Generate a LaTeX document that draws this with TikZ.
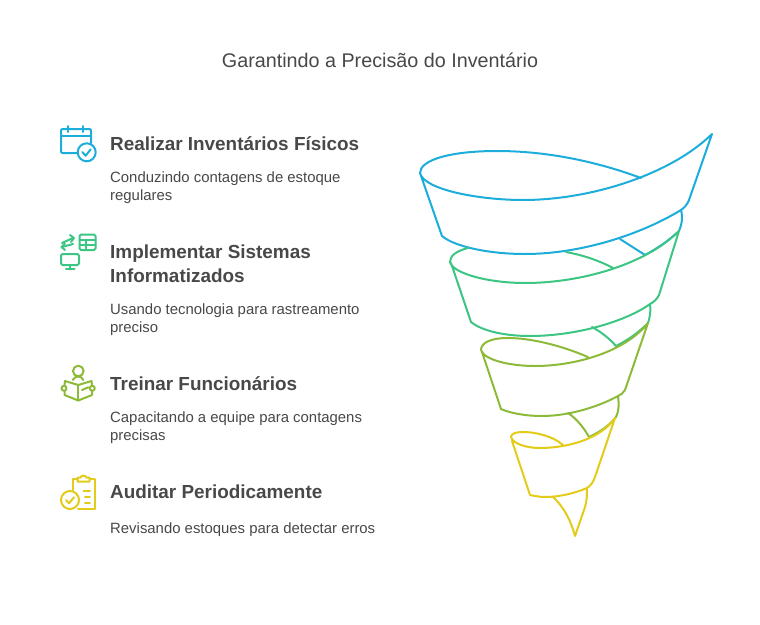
\documentclass[tikz,border=0pt]{standalone}
\usepackage{fontspec}
\setmainfont{Liberation Sans}
\usepackage{tikz}
\definecolor{cblue}{HTML}{1DADDB}
\definecolor{cgreen}{HTML}{3CC583}
\definecolor{colive}{HTML}{8DBB39}
\definecolor{cyellow}{HTML}{E3CB1A}
\definecolor{ctext}{HTML}{484848}
\tikzset{
  title/.style={text=ctext, inner sep=0pt, font=\fontsize{19.75}{24}\selectfont},
  head/.style={anchor=north west, align=left, text=ctext, inner sep=0pt, font=\fontsize{18.9}{24}\selectfont\bfseries},
  body/.style={anchor=north west, align=left, text=ctext, inner sep=0pt, font=\fontsize{14.9}{18}\selectfont},
  funnel/.style={line width=2pt, line join=round, line cap=round},
  icon/.style={line width=2pt, line join=round, line cap=round}
}

\begin{document}
\begin{tikzpicture}[x=1pt, y=-1pt]
        \useasboundingbox (0,0) rectangle (760,624);

        \node (title) [title] at (380,60) {Garantindo a Precisão do Inventário};

        \node (h1) [head] at (110,136.5) {Realizar Inventários Físicos};
        \node (t1) [body] at (110,171) {Conduzindo contagens de estoque\\regulares};
        \node (h2) [head] at (110,244.5) {Implementar Sistemas\\Informatizados};
        \node (t2) [body] at (110,303) {Usando tecnologia para rastreamento\\preciso};
        \node (h3) [head] at (110,376.5) {Treinar Funcionários};
        \node (t3) [body] at (110,411) {Capacitando a equipe para contagens\\precisas};
        \node (h4) [head] at (110,484.5) {Auditar Periodicamente};
        \node (t4) [body] at (110,522) {Revisando estoques para detectar erros};

        % funnel, blue
        \draw [funnel, cblue] (641,178) .. controls (590,159) and (540,151) .. (497,151)
                .. controls (450,151) and (420,160) .. (420,173)
                .. controls (424,190) and (480,200) .. (523,200)
                .. controls (590,200) and (670,175) .. (712,134)
                -- (689,200) .. controls (687,205) and (684,208) .. (681,210)
                .. controls (640,235) and (580,254) .. (525,254)
                .. controls (490,254) and (455,247) .. (442,236) -- (420,173);
        \draw [funnel, cblue] (681,210) .. controls (683,218) and (682,224) .. (679,231)
                .. controls (668,241) and (658,248) .. (645,255);
        \draw [funnel, cblue] (620,239) -- (645,255);

        % funnel, green
        \draw [funnel, cgreen] (613,268) .. controls (598,260) and (582,255) .. (566,252);
        \draw [funnel, cgreen] (468,248) .. controls (456,251) and (450,256) .. (450,262)
                .. controls (453,274) and (490,283) .. (525,283)
                .. controls (580,283) and (645,265) .. (679,231)
                -- (659,295) .. controls (657,299) and (654,302) .. (650,304)
                .. controls (625,322) and (575,336) .. (530,336)
                .. controls (505,336) and (482,331) .. (471,322) -- (451,263);
        \draw [funnel, cgreen] (650,304) .. controls (651,311) and (650,317) .. (648,323)
                .. controls (638,333) and (628,340) .. (616,346);
        \draw [funnel, cgreen] (592,327) .. controls (601,332) and (609,338) .. (616,346);

        % funnel, olive
        \draw [funnel, colive] (588,357) .. controls (560,345) and (530,338) .. (508,338)
                .. controls (490,338) and (481,343) .. (481,350)
                .. controls (484,360) and (510,366) .. (535,366)
                .. controls (575,366) and (625,352) .. (648,323)
                -- (625,390) .. controls (623,393) and (621,395) .. (618,396)
                .. controls (600,406) and (570,416) .. (542,416)
                .. controls (525,416) and (510,413) .. (501,409) -- (482,352);
        \draw [funnel, colive] (618,396) .. controls (619,404) and (619,411) .. (616,417)
                .. controls (610,425) and (600,432) .. (589,437);
        \draw [funnel, colive] (568,413) .. controls (577,419) and (584,428) .. (589,437);

        % funnel, yellow
        \draw [funnel, cyellow] (563,445) .. controls (553,436) and (535,432) .. (523,432)
                .. controls (515,432) and (511,434) .. (511,437)
                .. controls (513,444) and (527,448) .. (540,448)
                .. controls (565,448) and (600,440) .. (615,418)
                -- (595,477) .. controls (593,483) and (590,486) .. (587,488)
                .. controls (575,493) and (560,497) .. (545,497)
                .. controls (540,497) and (535,496) .. (530,495) -- (512,441);
        \draw [funnel, cyellow] (553,497) .. controls (564,507) and (571,521) .. (575,536)
                -- (584,510) .. controls (587,502) and (587,495) .. (587,488);

        % calendar icon
        \draw [icon, cblue] (77,153) -- (63,153) .. controls (61.5,153) and (61,152.5) .. (61,151) -- (61,131)
                .. controls (61,129.5) and (61.5,129) .. (63,129) -- (89,129)
                .. controls (90.5,129) and (91,129.5) .. (91,131) -- (91,143);
        \draw [icon, cblue] (61,136) -- (91,136);
        \draw [icon, cblue] (68,126) -- (68,132);
        \draw [icon, cblue] (83,126) -- (83,132);
        \draw [icon, cblue] (86.7,152.3) circle (9);
        \draw [icon, cblue] (82.3,152) -- (85.7,155.7) -- (90.7,149.3);

        % table and monitor icon
        \draw [icon, cgreen, rounded corners=1.5pt] (79.5,234.5) rectangle (95.5,250);
        \draw [icon, cgreen] (79.5,239.8) -- (95.5,239.8);
        \draw [icon, cgreen] (79.5,245) -- (95.5,245);
        \draw [icon, cgreen] (86,239.8) -- (86,250);
        \draw [icon, cgreen, rounded corners=1.5pt] (61,254) rectangle (79,265);
        \draw [icon, cgreen] (70,265) -- (70,269.3);
        \draw [icon, cgreen] (66,269.3) -- (74.5,269.3);
        \draw [icon, cgreen] (62,243) -- (73,238);
        \draw [icon, cgreen] (70,235) -- (74,238) -- (71,242);
        \draw [icon, cgreen] (62,247) -- (73,244);
        \draw [icon, cgreen] (65,243.5) -- (61.5,247) -- (65,250);

        % reader icon
        \draw [icon, colive] (78.3,371) circle (5.3);
        \draw [icon, colive] (72.7,380) .. controls (74,377.5) and (76,376.5) .. (78.3,376.5)
                .. controls (80.6,376.5) and (82,377.5) .. (83.3,380);
        \draw [icon, colive] (78.3,385) -- (65,381) -- (64.5,385.5);
        \draw [icon, colive] (78.3,385) -- (91.5,381) -- (92,385.5);
        \draw [icon, colive] (64.5,391) -- (64.5,395) -- (78.3,400.5) -- (92,395) -- (92,391);
        \draw [icon, colive] (78.3,385) -- (78.3,400.5);
        \draw [icon, colive] (64,388.3) circle (2.5);
        \draw [icon, colive] (92.3,388.3) circle (2.5);
        \draw [icon, colive] (82,390) -- (88.3,387.3);

        % clipboard icon
        \draw [icon, cyellow] (72.5,490) -- (72.5,478.5) -- (77.5,478.5);
        \draw [icon, cyellow] (89.5,478.5) -- (94.5,478.5) -- (94.5,509) -- (78,509);
        \draw [icon, cyellow] (77.5,477.5) -- (80.5,477.5) .. controls (81,475) and (86,475) .. (86.5,477.5)
                -- (89.5,477.5) -- (89.5,481.5) -- (77.5,481.5) -- cycle;
        \draw [icon, cyellow] (83.5,490.7) -- (90,490.7);
        \draw [icon, cyellow] (85,497.3) -- (90,497.3);
        \draw [icon, cyellow] (85,503.3) -- (90,503.3);
        \draw [icon, cyellow] (70,500) circle (9);
        \draw [icon, cyellow] (66,500) -- (69,503.3) -- (74,497.3);
\end{tikzpicture}
\end{document}
